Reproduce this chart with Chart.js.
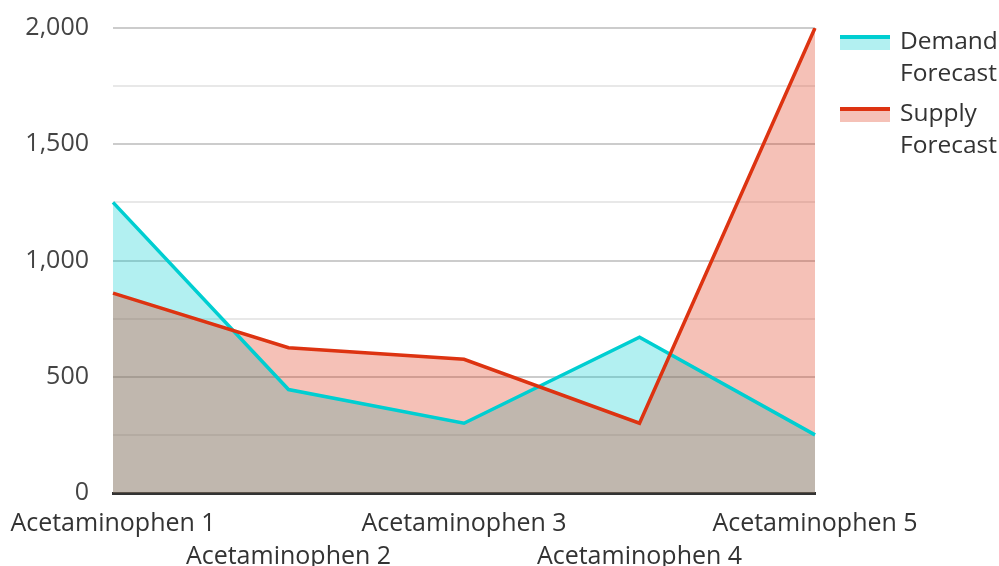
<!DOCTYPE html>
<html>
<head>
<meta charset="utf-8">
<script src="https://cdn.jsdelivr.net/npm/chart.js@4"></script>
<style>
  html, body { margin: 0; padding: 0; background: #fff; }
  #wrap { position: relative; width: 999px; height: 566px; }
  #legend { position: absolute; left: 840px; top: 24px; font-family: "Open Sans", sans-serif; font-size: 24.5px; color: #333; }
  .item { display: flex; align-items: flex-start; margin-bottom: 8px; }
  .swatch { width: 50px; height: 15px; margin-top: 11px; margin-right: 10px; box-sizing: border-box; border-top: 4px solid; }
  .item span { line-height: 32px; }
</style>
</head>
<body>
<div id="wrap">
  <canvas id="chart"></canvas>
  <div id="legend"></div>
</div>
<script>
// chart data
const products = ['Acetaminophen 1', 'Acetaminophen 2', 'Acetaminophen 3', 'Acetaminophen 4', 'Acetaminophen 5'];
const demandForecast = [1250, 445, 300, 670, 250];
const supplyForecast = [860, 625, 575, 300, 2000];
const seriesNames = ['Demand Forecast', 'Supply Forecast'];

const cyan = 'rgb(0, 206, 209)';
const red = 'rgb(221, 51, 17)';

// stagger the x labels on two rows
const staggered = products.map((p, i) => i % 2 === 0 ? [p] : ['', p]);

// legend as html so the names can wrap
const legendEl = document.getElementById('legend');
[[seriesNames[0], cyan, 'rgba(0, 206, 209, 0.3)'], [seriesNames[1], red, 'rgba(221, 51, 17, 0.3)']].forEach(([name, line, fill]) => {
    const words = name.split(' ');
    const item = document.createElement('div');
    item.className = 'item';
    item.innerHTML = `<div class="swatch" style="border-color:${line};background:${fill}"></div><span>${words[0]}<br>${words[1]}</span>`;
    legendEl.appendChild(item);
});

Chart.defaults.font.family = '"Open Sans", sans-serif';
Chart.defaults.color = '#333';

new Chart(document.getElementById('chart'), {
    type: 'line',
    data: {
        labels: staggered,
        datasets: [{
            label: seriesNames[0],
            data: demandForecast,
            borderColor: cyan,
            backgroundColor: 'rgba(0, 206, 209, 0.3)',
            borderWidth: 3.5,
            pointRadius: 0,
            fill: 'origin',
            order: 1
        }, {
            label: seriesNames[1],
            data: supplyForecast,
            borderColor: red,
            backgroundColor: 'rgba(221, 51, 17, 0.3)',
            borderWidth: 3.5,
            pointRadius: 0,
            fill: 'origin',
            order: 0
        }]
    },
    options: {
        responsive: true,
        maintainAspectRatio: false,
        animation: false,
        layout: { padding: { top: 0, right: 184, left: 0, bottom: 0 } },
        plugins: {
            legend: { display: false },
            tooltip: { enabled: false },
            filler: { drawTime: 'beforeDatasetsDraw' }
        },
        scales: {
            x: {
                offset: false,
                grid: { display: false },
                border: { color: '#333', width: 3 },
                ticks: { font: { size: 25, lineHeight: 1.32 }, maxRotation: 0, autoSkip: false, padding: 6, color: '#333' },
                afterFit: scale => { scale.height = 73; }
            },
            y: {
                min: 0,
                max: 2000,
                border: { display: false },
                grid: {
                    color: ctx => ctx.tick && ctx.tick.value % 500 === 0 ? '#cccccc' : '#e8e8e8',
                    lineWidth: 2,
                    drawTicks: false
                },
                ticks: {
                    stepSize: 250,
                    padding: 24,
                    font: { size: 25 },
                    color: '#444',
                    callback: v => v % 500 === 0 ? v.toLocaleString('en-US') : ''
                },
                afterFit: scale => {
                    scale.width = 113;
                    scale.paddingTop = 28;
                    scale.paddingBottom = 10;
                }
            }
        }
    }
});
</script>
</body>
</html>
